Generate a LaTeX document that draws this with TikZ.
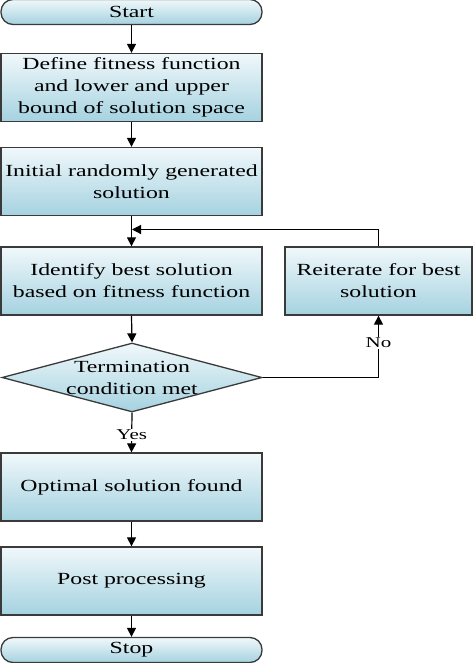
\documentclass[tikz,border=0pt]{standalone}
\usepackage{fontspec}
\setmainfont{Liberation Serif}[FakeStretch=1.4]
\usetikzlibrary{arrows.meta,shapes.geometric}
\definecolor{boxtop}{HTML}{F0F8FB}
\definecolor{boxbot}{HTML}{A5D2E0}
\definecolor{edgec}{HTML}{3A3A3A}
\tikzset{
 proc/.style={draw=edgec,line width=1.3pt,top color=boxtop,bottom color=boxbot,
   minimum width=261pt,minimum height=68pt,inner sep=0pt,align=center,
   font=\fontsize{17}{22}\selectfont},
 term/.style={proc,rounded corners=12pt,minimum height=25pt},
 decision/.style={draw=edgec,line width=1.3pt,top color=boxtop,bottom color=boxbot,
   diamond,minimum width=260pt,minimum height=69pt,inner sep=0pt,shape aspect=3.77},
 txt/.style={align=center,font=\fontsize{17}{22}\selectfont,inner sep=0pt},
 conn/.style={draw=black,line width=1.2pt,-{Triangle[width=9pt,length=9pt]}},
 lbl/.style={fill=white,inner sep=1pt,font=\fontsize{15}{18}\selectfont}
}
\begin{document}
\begin{tikzpicture}[x=1pt,y=-1pt]
\useasboundingbox (0,0) rectangle (474,663);
\node[term] (start) at (131.5,12) {Start};
\node[proc] (def) at (131.5,87.5) {Define fitness function\\and lower and upper\\bound of solution space};
\node[proc] (init) at (131.5,181.5) {Initial randomly generated\\solution};
\node[proc] (ident) at (131.5,281) {Identify best solution\\based on fitness function};
\node[proc,minimum width=187pt] (reit) at (378.5,281) {Reiterate for best\\solution};
\node[decision] (dec) at (132,377.5) {};
\node[txt] (dectxt) at (132,377.5) {Termination\\condition met};
\node[proc] (opt) at (131.5,487) {Optimal solution found};
\node[proc] (post) at (131.5,581) {Post processing};
\node[term] (stop) at (131.5,650) {Stop};
\coordinate (fb) at (132,229.5);
\draw[conn] (start.south) -- (def.north);
\draw[conn] (def.south) -- (init.north);
\draw[conn] (init.south) -- (ident.north);
\draw[conn] (reit.north) |- (fb);
\draw[conn] (ident.south) -- (dec.north);
\draw[conn] (dec.east) -| node[lbl,pos=0.78]{No} (reit.south);
\draw[conn] (dec.south) -- node[lbl,pos=0.56]{Yes} (opt.north);
\draw[conn] (opt.south) -- (post.north);
\draw[conn] (post.south) -- (stop.north);
\end{tikzpicture}
\end{document}
